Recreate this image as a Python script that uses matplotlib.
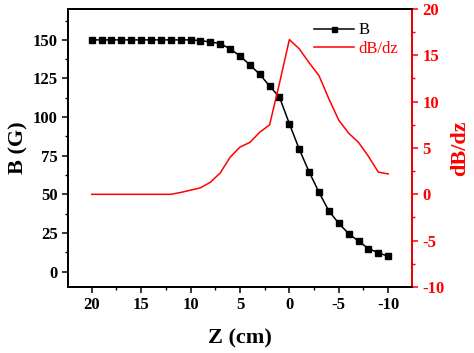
import numpy as np
import matplotlib.pyplot as plt
from matplotlib.ticker import MultipleLocator

# datos
z = [20, 19, 18, 17, 16, 15, 14, 13, 12, 11, 10, 9, 8, 7, 6, 5, 4, 3, 2, 1, 0,
     -1, -2, -3, -4, -5, -6, -7, -8, -9, -10]
B = [150, 150, 150, 150, 150, 150, 150, 150, 150, 150, 150, 149.5, 148.7, 147.6,
     144.2, 139.6, 133.9, 127.7, 120.1, 112.9, 95.7, 79.2, 64.5, 51.3, 39.2,
     31.2, 24.5, 19.7, 14.9, 12.1, 9.9]
dBdz = [0, 0, 0, 0, 0, 0, 0, 0, 0, 0.2, 0.45, 0.7, 1.3, 2.3, 4.0, 5.1, 5.6, 6.7,
        7.5, 12.0, 16.7, 15.7, 14.2, 12.8, 10.3, 8.0, 6.6, 5.6, 4.1, 2.4, 2.2]

plt.rcParams['font.family'] = ['Liberation Serif', 'DejaVu Serif']
plt.rcParams['axes.unicode_minus'] = False

fig = plt.figure(figsize=(4.74, 3.53), dpi=100)
ax = fig.add_axes([0.1435, 0.187, 0.7255, 0.7875])
ax2 = ax.twinx()

l1, = ax.plot(z, B, color='black', lw=1.1, marker='s', markersize=4.5, label='B')
l2, = ax2.plot(z, dBdz, color='red', lw=1.1, label='dB/dz')

ax.set_xlim(22.4, -12.4)
ax.set_ylim(-10, 170)
ax2.set_ylim(-10, 20)

ax.xaxis.set_major_locator(MultipleLocator(5))
ax.xaxis.set_minor_locator(MultipleLocator(2.5))
ax.yaxis.set_major_locator(MultipleLocator(25))
ax.yaxis.set_minor_locator(MultipleLocator(12.5))
ax2.yaxis.set_major_locator(MultipleLocator(5))
ax2.yaxis.set_minor_locator(MultipleLocator(2.5))

for a in (ax, ax2):
    for s in a.spines.values():
        s.set_linewidth(1.3)
ax2.spines['right'].set_color('red')

ax.tick_params(which='major', direction='out', length=4, width=1.1, labelsize=12)
ax.tick_params(which='minor', direction='out', length=2.5, width=1)
ax2.tick_params(which='major', direction='out', length=4, width=1.1, labelsize=12,
                colors='red')
ax2.tick_params(which='minor', direction='out', length=2.5, width=1, colors='red')
for lab in ax.get_xticklabels() + ax.get_yticklabels() + ax2.get_yticklabels():
    lab.set_fontweight('bold')

ax.set_xlabel('Z (cm)', fontsize=16, fontweight='bold', labelpad=11)
ax.set_ylabel('B (G)', fontsize=16, fontweight='bold', labelpad=3)
ax2.set_ylabel('dB/dz', fontsize=16, fontweight='bold', color='red', labelpad=4)

leg = ax2.legend(handles=[l1, l2], loc='upper right', frameon=False, fontsize=12,
                 handlelength=2.4, handletextpad=0.3, borderaxespad=0.4,
                 labelspacing=0.15, markerscale=0.8)
leg.get_texts()[1].set_color('red')

fig.savefig('out.png', dpi=100)
